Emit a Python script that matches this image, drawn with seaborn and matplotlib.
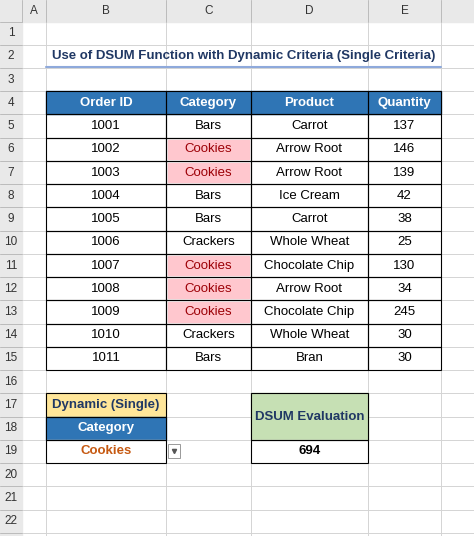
import matplotlib.pyplot as plt
from matplotlib.patches import Rectangle
import seaborn as sns

sns.set_theme(style="white")
plt.rcParams['font.family'] = ['Calibri', 'Liberation Sans', 'DejaVu Sans']

# data
order_ids = [1001, 1002, 1003, 1004, 1005, 1006, 1007, 1008, 1009, 1010, 1011]
categories = ['Bars', 'Cookies', 'Cookies', 'Bars', 'Bars', 'Crackers', 'Cookies',
              'Cookies', 'Cookies', 'Crackers', 'Bars']
products = ['Carrot', 'Arrow Root', 'Arrow Root', 'Ice Cream', 'Carrot', 'Whole Wheat',
            'Chocolate Chip', 'Arrow Root', 'Chocolate Chip', 'Whole Wheat', 'Bran']
quantities = [137, 146, 139, 42, 38, 25, 130, 34, 245, 30, 30]
headers = ['Order ID', 'Category', 'Product', 'Quantity']
criteria = 'Cookies'
dsum = sum(q for c, q in zip(categories, quantities) if c == criteria)

col_names = ['A', 'B', 'C', 'D', 'E']
col_edges = [22, 46, 166, 251, 368, 441]
row_h = 23.24
top0 = 21.5

def ry(r):
    return top0 + (r - 1) * row_h

fig = plt.figure(figsize=(4.74, 5.36), dpi=100)
ax = fig.add_axes([0, 0, 1, 1])
ax.set_xlim(0, 474)
ax.set_ylim(536, 0)
ax.axis('off')

grid = '#D4D4D4'
# gridlines
for x in col_edges + [474]:
    ax.plot([x, x], [0, 536], color=grid, lw=0.7, zorder=0)
for r in range(1, 25):
    ax.plot([0, 474], [ry(r), ry(r)], color=grid, lw=0.7, zorder=0)
# headers
ax.add_patch(Rectangle((0, 0), 474, top0, color='#E9E9E9', zorder=1))
ax.add_patch(Rectangle((0, 0), 22, 536, color='#E9E9E9', zorder=1))
for i, n in enumerate(col_names):
    ax.text((col_edges[i] + col_edges[i + 1]) / 2, top0 / 2, n, ha='center', va='center',
            fontsize=8.5, color='#333333', zorder=2)
for x in col_edges:
    ax.plot([x, x], [0, top0], color='#BBBBBB', lw=0.7, zorder=2)
for r in range(1, 24):
    if r <= 22:
        ax.text(11, ry(r) + row_h / 2, str(r), ha='center', va='center', fontsize=8.5,
                color='#333333', zorder=2)
    ax.plot([0, 22], [ry(r), ry(r)], color='#BBBBBB', lw=0.7, zorder=2)

# title
ax.text(244, ry(2) + row_h / 2, 'Use of DSUM Function with Dynamic Criteria (Single Criteria)',
        ha='center', va='center', fontsize=9.5, fontweight='bold', color='#203864', zorder=3)
ax.plot([46, 441], [ry(3) - 1, ry(3) - 1], color='#8EA9DB', lw=1.5, zorder=3)

def cell(c0, c1, r0, r1, fc=None, text=None, color='black', bold=False, border=True):
    x0, x1 = col_edges[c0], col_edges[c1]
    y0, y1 = ry(r0), ry(r1 + 1)
    if fc:
        ax.add_patch(Rectangle((x0, y0), x1 - x0, y1 - y0, color=fc, zorder=3))
    if border:
        ax.add_patch(Rectangle((x0, y0), x1 - x0, y1 - y0, fill=False, ec='black', lw=0.8, zorder=5))
    if text is not None:
        ax.text((x0 + x1) / 2, (y0 + y1) / 2, text, ha='center', va='center', fontsize=9.5,
                color=color, fontweight='bold' if bold else 'normal', zorder=6)

for j, h in enumerate(headers):
    cell(j + 1, j + 2, 4, 4, fc='#2F75B5', text=h, color='white', bold=True)
for i in range(len(order_ids)):
    r = 5 + i
    cell(1, 2, r, r, text=str(order_ids[i]))
    if categories[i] == criteria:
        ax.add_patch(Rectangle((col_edges[2] + 2, ry(r) + 2), col_edges[3] - col_edges[2] - 4,
                               row_h - 4, color='#FFC7CE', zorder=3))
        cell(2, 3, r, r, text=categories[i], color='#9C0006')
    else:
        cell(2, 3, r, r, text=categories[i])
    cell(3, 4, r, r, text=products[i])
    cell(4, 5, r, r, text=str(quantities[i]))

cell(1, 2, 17, 17, fc='#FFE699', text='Dynamic (Single)', color='#203864', bold=True)
cell(1, 2, 18, 18, fc='#2F75B5', text='Category', color='white', bold=True)
cell(1, 2, 19, 19, fc='white', text=criteria, color='#C65911', bold=True)
cell(3, 4, 17, 18, fc='#C6E0B4', text='DSUM Evaluation', color='#203864', bold=True)
cell(3, 4, 19, 19, fc='white', text=str(dsum), bold=True)
# dropdown arrow
ax.add_patch(Rectangle((168, ry(19) + 4), 12, 14, fc='white', ec='#999999', lw=0.7, zorder=6))
ax.plot(174, ry(19) + 11, marker='v', ms=3, color='#555555', zorder=7)

fig.savefig('out.png', dpi=100)
